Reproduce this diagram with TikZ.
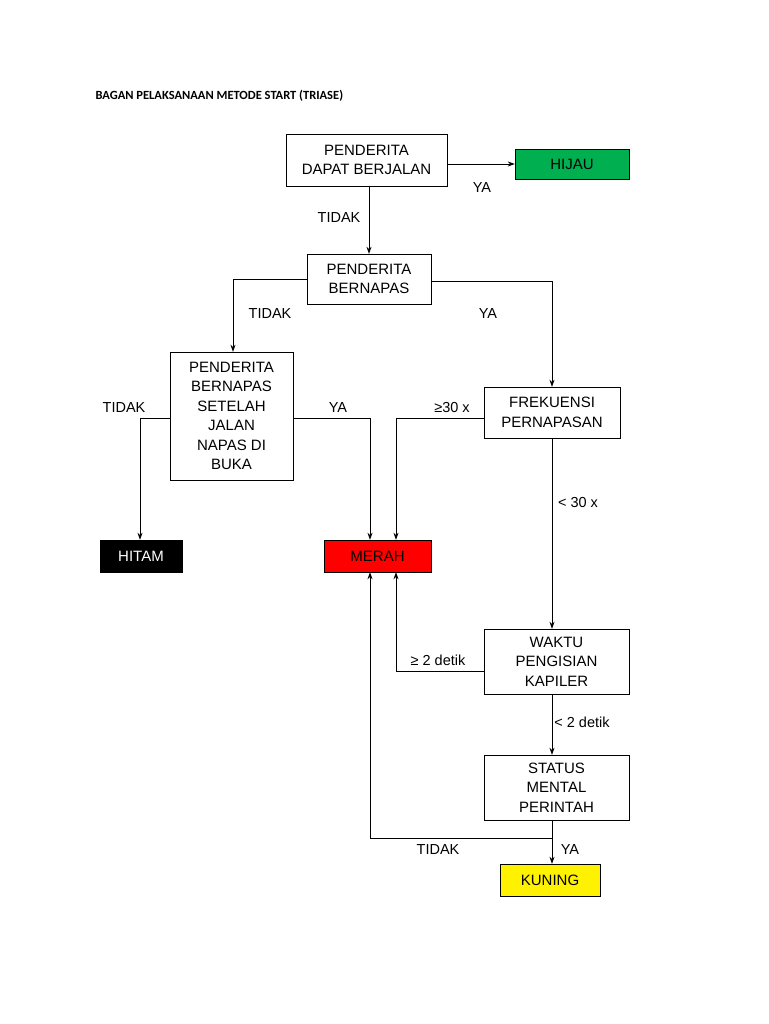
\documentclass[tikz,border=0pt]{standalone}
\usepackage{fontspec}
\setmainfont{Liberation Sans}
\newfontfamily\titlefont{Carlito}
\usetikzlibrary{arrows.meta}
\definecolor{hijau}{RGB}{0,176,80}
\begin{document}
\begin{tikzpicture}[x=1pt,y=-1pt,
  box/.style={draw,align=center,inner sep=0pt,font=\fontsize{15}{19.5}\selectfont},
  lbl/.style={font=\fontsize{14.5}{16}\selectfont,inner sep=1pt},
  arr/.style={draw,-{Stealth[length=7pt,width=5pt]},line width=0.8pt}]
\useasboundingbox (0,0) rectangle (768,1024);
\node[font=\titlefont\bfseries\fontsize{12.5}{14}\selectfont,anchor=west] (title) at (92,96) {BAGAN PELAKSANAAN METODE START (TRIASE)};

\node[box,minimum width=161,minimum height=52] (a) at (366.5,160) {PENDERITA\\DAPAT BERJALAN};
\node[box,fill=hijau,minimum width=114,minimum height=30] (hijau) at (572,164) {HIJAU};
\node[box,minimum width=124,minimum height=50] (b) at (369,279) {PENDERITA\\BERNAPAS};
\node[box,minimum width=123,minimum height=128] (c) at (231.5,416) {PENDERITA\\BERNAPAS\\SETELAH\\JALAN\\NAPAS DI\\BUKA};
\node[box,minimum width=136,minimum height=51] (d) at (552,412.5) {FREKUENSI\\PERNAPASAN};
\node[box,fill=black,text=white,minimum width=82,minimum height=32] (hitam) at (141,556) {HITAM};
\node[box,fill=red,minimum width=107,minimum height=32] (merah) at (377.5,556) {MERAH};
\node[box,minimum width=145,minimum height=65] (e) at (556.5,661.5) {WAKTU\\PENGISIAN\\KAPILER};
\node[box,minimum width=145,minimum height=65] (f) at (556.5,787.5) {STATUS\\MENTAL\\PERINTAH};
\node[box,fill=yellow,minimum width=100,minimum height=32] (kuning) at (550,880) {KUNING};

% A -> HIJAU, A -> B
\draw[arr] (a.east |- hijau.west) -- (hijau.west);
\node[lbl] (l1) at (482,188) {YA};
\draw[arr] (a.south -| b.north) -- (b.north);
\node[lbl] (l2) at (339,218) {TIDAK};

% B -> C, B -> D
\coordinate (b1) at (233,279);
\draw[arr] (b.west) -- (b1) -- (b1 |- c.north);
\node[lbl] (l3) at (270,314) {TIDAK};
\coordinate (b2) at (552,281);
\draw[arr] (b.east |- b2) -- (b2) -- (d.north);
\node[lbl] (l4) at (488,314) {YA};

% C -> HITAM, C -> MERAH
\coordinate (c1) at (140,418);
\draw[arr] (c.west |- c1) -- (c1) -- (c1 |- hitam.north);
\node[lbl] (l5) at (124,408) {TIDAK};
\coordinate (c2) at (370,418);
\draw[arr] (c.east |- c2) -- (c2) -- (c2 |- merah.north);
\node[lbl] (l6) at (338,408) {YA};

% D -> MERAH, D -> E
\coordinate (d1) at (396,418);
\draw[arr] (d.west |- d1) -- (d1) -- (d1 |- merah.north);
\node[lbl] (l7) at (452,408) {≥30 x};
\draw[arr] (d.south) -- (d.south |- e.north);
\node[lbl] (l8) at (578,503) {< 30 x};

% E -> MERAH, E -> F
\coordinate (e1) at (396,671);
\draw[arr] (e.west |- e1) -- (e1) -- (e1 |- merah.south);
\node[lbl] (l9) at (438,660) {≥ 2 detik};
\draw[arr] (d.south |- e.south) -- (d.south |- f.north);
\node[lbl] (l10) at (582,722) {< 2 detik};

% F -> KUNING, F -> MERAH
\draw[arr] (d.south |- f.south) -- (d.south |- kuning.north);
\node[lbl] (l11) at (570,850) {YA};
\coordinate (f1) at (552,838);
\coordinate (f2) at (370,838);
\draw[arr] (f1) -- (f2) -- (f2 |- merah.south);
\node[lbl] (l12) at (438,850) {TIDAK};
\end{tikzpicture}
\end{document}
